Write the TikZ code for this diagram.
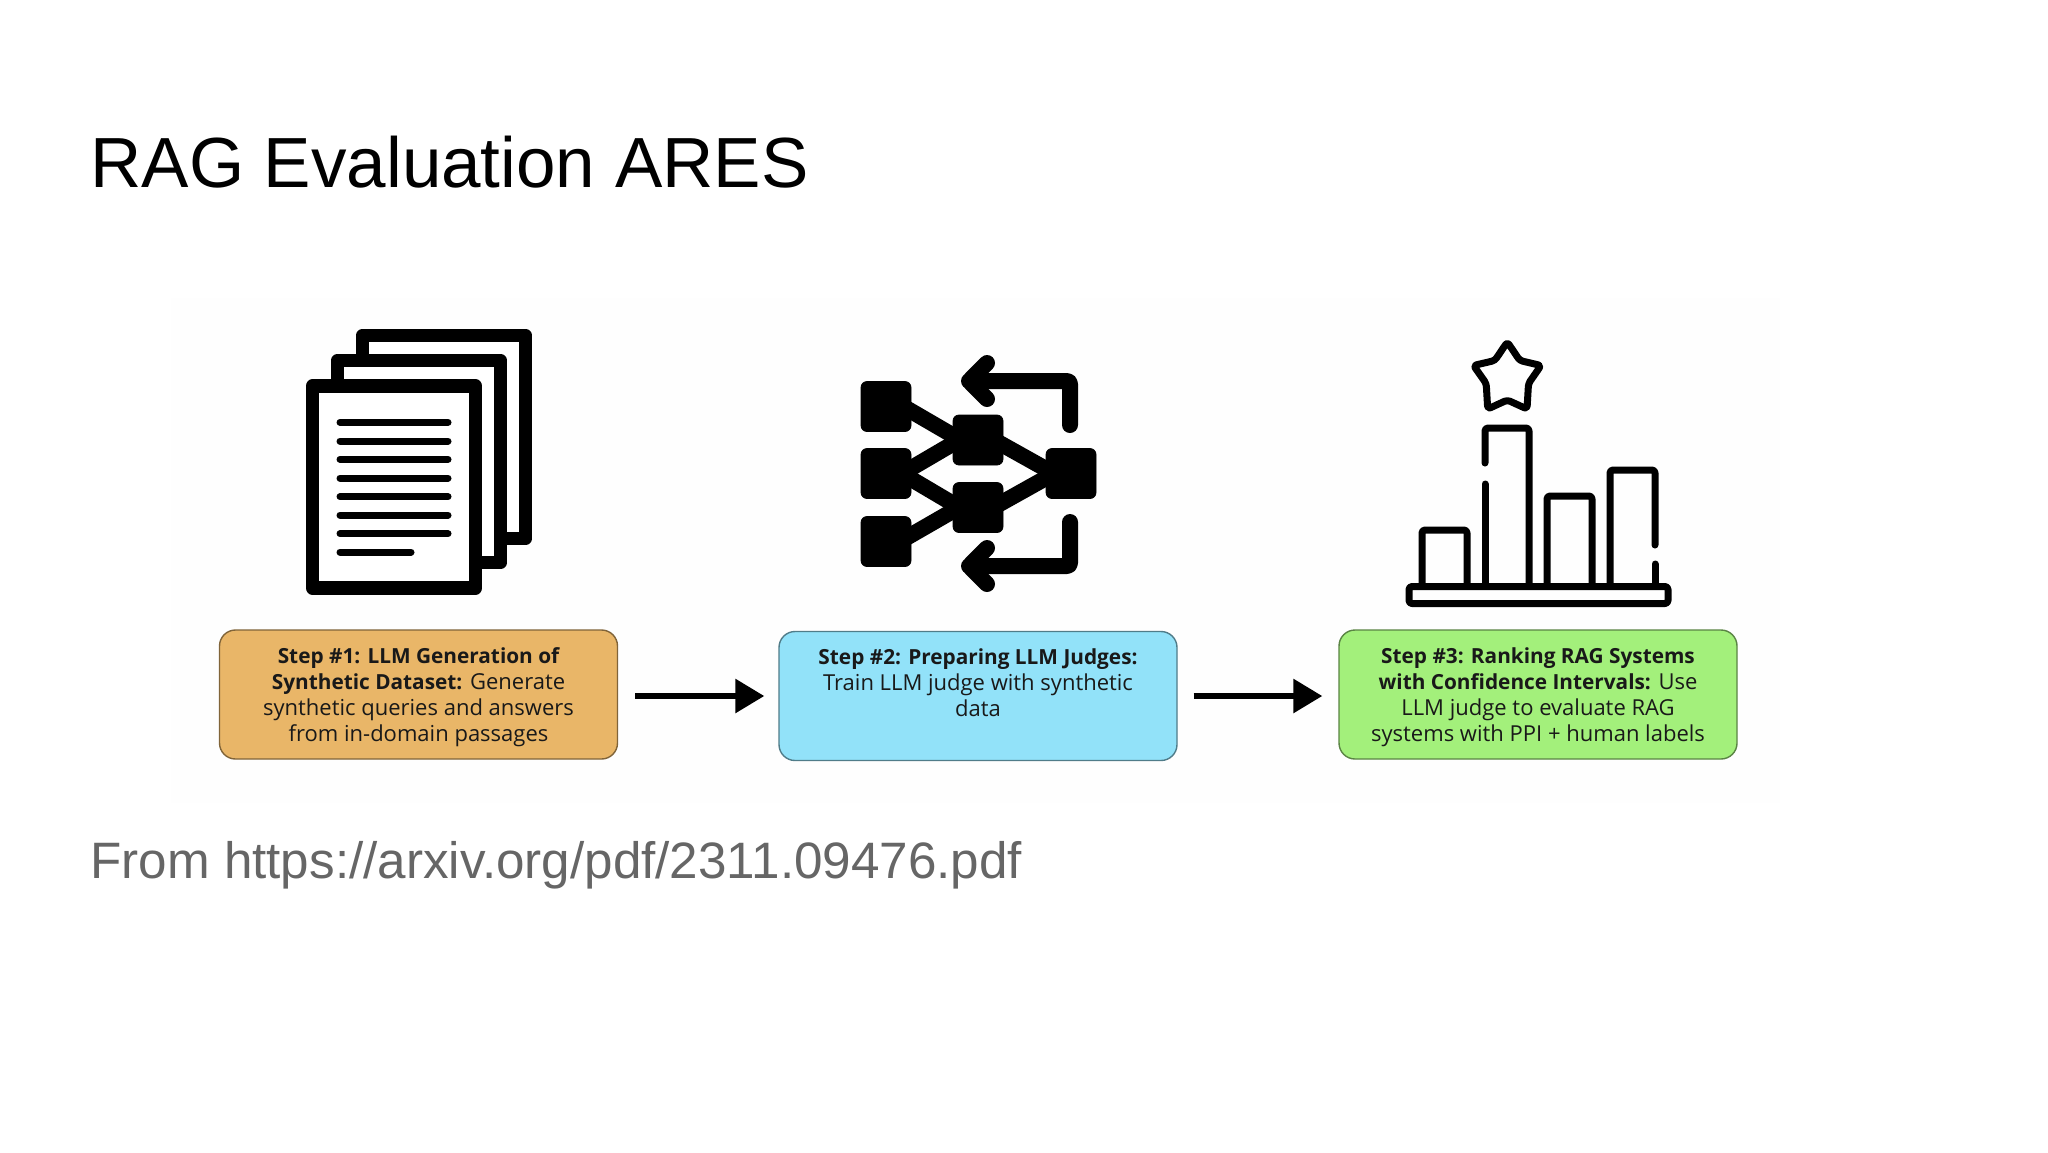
\documentclass[tikz,border=0pt]{standalone}
\usepackage{fontspec}
\setmainfont{Liberation Sans}
\newfontfamily\boxfont{Open Sans}
\usetikzlibrary{positioning,arrows.meta}
\definecolor{orangebox}{HTML}{E9B668}
\definecolor{bluebox}{HTML}{92E2F9}
\definecolor{greenbox}{HTML}{A3F07B}
\newcommand{\headtxt}[1]{{\fontsize{10.4}{13}\selectfont\bfseries #1}}
\newcommand{\lifttxt}{\rule{0pt}{11pt}}

\begin{document}
\begin{tikzpicture}[x=0.5pt,y=-0.5pt,
                    lbl/.style={inner sep=0pt,anchor=base west},
                    stepbox/.style={draw=#1!55!black,fill=#1,line width=0.7pt,rounded corners=8pt,minimum width=199pt,minimum height=64.5pt,inner sep=0pt,align=center,text=black!90,font=\boxfont\fontsize{11}{13}\selectfont},
                    flow/.style={-{Triangle[length=14.5pt,width=16.5pt]},line width=3pt,black},
                    page/.style={draw=black,fill=white,line width=6.7pt,line join=round},
                    txtline/.style={line width=3.5pt,line cap=round},
                    unit/.style={draw=black,fill=black,rounded corners=3pt,minimum size=25pt,inner sep=0pt},
                    wire/.style={line width=8pt},
                    back/.style={line width=8pt,line cap=round,line join=round,rounded corners=1.5pt},
                    bar/.style={line width=3.5pt,line cap=round,line join=round,rounded corners=1.5pt}]
  \useasboundingbox (0,0) rectangle (2048,1152);
  \fill[white] (0,0) rectangle (2048,1152);
  \fill[black!0.5] (171,298) rectangle (1780,803);

  \node[lbl,font=\fontsize{35.5}{40}\selectfont] (title) at (90,187.5) {RAG Evaluation ARES};
  \node[lbl,font=\fontsize{25.6}{30}\selectfont,text=black!60] (source) at (90,878.5) {From https://arxiv.org/pdf/2311.09476.pdf};

  \draw[page] (362.5,335.5) rectangle (525.5,538.5);
  \draw[page] (337.5,360.5) rectangle (500.5,562.5);
  \draw[page] (312.5,386) rectangle (475.5,588);
  \foreach \y in {422.3,441,459.3,478,496.7,515,533.7}
    \draw[txtline] (340,\y) -- (448,\y);
  \draw[txtline] (340,552) -- (411,552);

  \node[unit] (in1) at (886,406.5) {};
  \node[unit] (in2) at (886,473.5) {};
  \node[unit] (in3) at (886,541.5) {};
  \node[unit] (mid1) at (978,440) {};
  \node[unit] (mid2) at (978,507.5) {};
  \node[unit] (out) at (1071,473.5) {};
  \draw[wire] ([yshift=5pt]in1.center)--([yshift=-5pt]mid1.center);
  \draw[wire] ([yshift=-4.7pt]in2.center)--([yshift=5.5pt]mid1.center);
  \draw[wire] ([yshift=4.7pt]in2.center)--([yshift=-5.5pt]mid2.center);
  \draw[wire] ([yshift=-4pt]in3.center)--([yshift=5.5pt]mid2.center);
  \draw[wire] ([yshift=4.5pt]mid1.center)--([yshift=-4.75pt]out.center);
  \draw[wire] ([yshift=-4.25pt]mid2.center)--([yshift=4.75pt]out.center);
  \draw[back] (1070,425)--(1070,381)--(969,381);
  \draw[back] (987,363)--(969,381)--(987,399);
  \draw[back] (1070,522)--(1070,566)--(969,566);
  \draw[back] (987,548)--(969,566)--(987,584);

  \draw[bar] (1507.3,342)--(1519.8,360.5)--(1541,365.5)--(1528.5,383.5)--(1527,409)--(1507.3,400)--(1487.7,409)--(1486.2,383.5)--(1473.5,365.5)--(1494.8,360.5)--cycle;
  \draw[bar] (1409,586.5) rectangle (1668,603.5);
  \draw[bar] (1422,586)--(1422,530)--(1467,530)--(1467,586);
  \draw[bar] (1485,463)--(1485,428)--(1529,428)--(1529,586);
  \draw[bar] (1485,484)--(1485,586);
  \draw[bar] (1547,586)--(1547,496)--(1592,496)--(1592,586);
  \draw[bar] (1610,586)--(1610,470)--(1655,470)--(1655,545);
  \draw[bar] (1655,564)--(1655,586);

  \node[stepbox=orangebox] (step1) at (418.5,694.5) {\lifttxt\headtxt{Step \#1: LLM Generation of}\\\headtxt{Synthetic Dataset:} Generate\\synthetic queries and answers\\from in-domain passages};
  \node[stepbox=bluebox] (step2) at (978,696) {\lifttxt\headtxt{Step \#2: Preparing LLM Judges:}\\Train LLM judge with synthetic\\data\\\strut};
  \node[stepbox=greenbox] (step3) at (1538,694.5) {\lifttxt\headtxt{Step \#3: Ranking RAG Systems}\\\headtxt{with Confidence Intervals:} Use\\LLM judge to evaluate RAG\\systems with PPI + human labels};
  \draw[flow,shorten <=8.5pt,shorten >=7pt] (step1.east |- step2.west)--(step2.west);
  \draw[flow,shorten <=8pt,shorten >=8pt] (step2.east)--(step2.east -| step3.west);
\end{tikzpicture}
\end{document}
